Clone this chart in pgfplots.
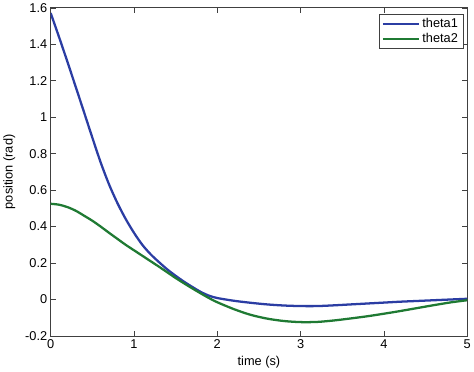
\documentclass[border=0pt]{standalone}
\usepackage{fontspec}
\setmainfont{Liberation Sans}
\usepackage{pgfplots}
\pgfplotsset{compat=1.18}
\definecolor{mblue}{rgb}{0.17,0.24,0.64}
\definecolor{mgreen}{rgb}{0.12,0.48,0.20}
\definecolor{frame}{rgb}{0.25,0.25,0.25}
\begin{document}
\begin{tikzpicture}
\begin{axis}[
  scale only axis,
  width=422bp, height=332.5bp,
  xmin=0, xmax=5, ymin=-0.2, ymax=1.6,
  xtick={0,1,2,3,4,5},
  ytick={-0.2,0,0.2,0.4,0.6,0.8,1,1.2,1.4,1.6},
  yticklabel style={/pgf/number format/fixed},
  /pgf/number format/assume math mode=true,
  tick align=inside,
  major tick length=5bp,
  axis line style={frame, line width=0.8pt},
  every tick/.style={frame, line width=0.6pt},
  tick label style={font=\fontsize{13}{15}\selectfont},
  label style={font=\fontsize{13}{15}\selectfont},
  xlabel={time (s)},
  ylabel={position (rad)},
  xlabel style={at={(rel axis cs:0.5,0)}, anchor=center, yshift=-26.5bp},
  ylabel style={at={(rel axis cs:0,0.5)}, anchor=center, yshift=42bp},
  legend style={at={(rel axis cs:1,1)}, anchor=north east, xshift=-4bp, yshift=-6bp,
    draw=frame, line width=0.7pt, font=\fontsize{13}{15}\selectfont,
    row sep=0.5bp, inner xsep=3bp, inner ysep=2.5bp},
  legend cell align=left,
  legend image code/.code={\draw[#1, line width=2.3bp] (0cm,0cm) -- (1.3cm,0cm);},
]
\addplot[mblue, line width=2.3bp, smooth] coordinates {
(0,1.571) (0.1,1.44) (0.2,1.305) (0.3,1.167) (0.4,1.028) (0.5,0.888) (0.6,0.752)
(0.7,0.632) (0.8,0.53) (0.9,0.442) (1.0,0.366) (1.1,0.30) (1.2,0.248)
(1.3,0.205) (1.4,0.165) (1.5,0.13) (1.6,0.098) (1.7,0.069) (1.8,0.042)
(1.9,0.021) (2.0,0.008) (2.2,-0.007) (2.4,-0.018) (2.6,-0.027) (2.8,-0.033)
(3.0,-0.036) (3.2,-0.036) (3.4,-0.032) (3.6,-0.027) (3.8,-0.022) (4.0,-0.017)
(4.2,-0.012) (4.4,-0.008) (4.6,-0.004) (4.8,0.0) (5.0,0.004)
};
\addlegendentry{theta1}
\addplot[mgreen, line width=2.3bp, smooth] coordinates {
(0,0.525) (0.1,0.52) (0.2,0.507) (0.3,0.487) (0.4,0.46) (0.5,0.432) (0.6,0.40)
(0.7,0.366) (0.8,0.333) (0.9,0.30) (1.0,0.27) (1.1,0.24) (1.2,0.21)
(1.3,0.18) (1.4,0.149) (1.5,0.118) (1.6,0.089) (1.7,0.061) (1.8,0.034)
(1.9,0.008) (2.0,-0.015) (2.2,-0.053) (2.4,-0.084) (2.6,-0.105) (2.8,-0.118)
(3.0,-0.124) (3.2,-0.123) (3.4,-0.115) (3.6,-0.104) (3.8,-0.092) (4.0,-0.078)
(4.2,-0.063) (4.4,-0.047) (4.6,-0.031) (4.8,-0.016) (5.0,-0.004)
};
\addlegendentry{theta2}
\end{axis}
\end{tikzpicture}
\end{document}
